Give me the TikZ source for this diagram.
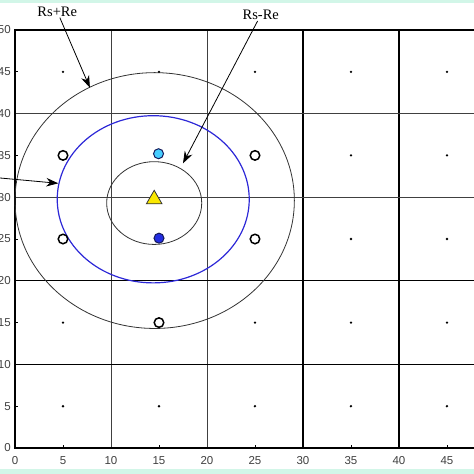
\documentclass[tikz,border=0pt]{standalone}
\usepackage{fontspec}
\setmainfont{Liberation Serif}
\setsansfont{Liberation Sans}
\usetikzlibrary{arrows.meta, positioning, shapes.geometric}

\definecolor{mint}{RGB}{210,246,232}
\definecolor{ringblue}{RGB}{45,40,215}
\definecolor{skyfill}{RGB}{70,205,255}
\definecolor{deepfill}{RGB}{35,45,225}
\definecolor{navy}{RGB}{20,25,90}
\definecolor{tri}{RGB}{250,232,0}

\begin{document}
\begin{tikzpicture}[x=9.6pt, y=8.36pt,
        gridthin/.style={draw=black!75, line width=0.7pt},
        gridthick/.style={draw=black, line width=1.3pt},
        ring/.style={draw=black!80, line width=0.8pt},
        bluering/.style={draw=ringblue, line width=1.2pt},
        site/.style={circle, fill=black, inner sep=0pt, minimum size=2.6pt},
        station/.style={circle, draw=black, line width=1.5pt, fill=white, inner sep=0pt, minimum size=9.5pt},
        target/.style={circle, draw=navy, line width=1pt, inner sep=0pt, minimum size=10pt},
        source/.style={regular polygon, regular polygon sides=3, draw=black!80, fill=tri, line width=0.8pt, inner sep=0pt, minimum size=18pt},
        ticklab/.style={font=\sffamily\fontsize{11.5}{13}\selectfont, text=black!75, inner sep=0pt},
        annot/.style={font=\fontsize{14.5}{17}\selectfont, inner sep=1pt},
        arrow/.style={-{Stealth[length=12pt, width=8.5pt]}, line width=0.8pt}
    ]
        \useasboundingbox (-1.5625,-3.11) rectangle (47.8125,53.59);
        \clip (-1.5625,-3.11) rectangle (47.8125,53.59);

        % --- frame strips ---
        \fill[mint] (-1.5625,53.59) rectangle (47.8125,53.25);
        \fill[mint] (-1.5625,-3.11) rectangle (47.8125,-2.55);

        % --- grid ---
        \foreach \v in {10,20} {
            \draw[gridthin] (\v,0) -- (\v,50);
        }
        \foreach \v in {30,40} {
            \draw[gridthick] (\v,0) -- (\v,50);
        }
        \foreach \v in {30,40} {
            \draw[gridthin] (0,\v) -- (50,\v);
        }
        \foreach \v in {10,20} {
            \draw[gridthick] (0,\v) -- (50,\v);
        }
        \draw[gridthick] (50,0) -- (0,0) -- (0,50) -- (50,50);

        % --- ticks and tick labels ---
        \foreach \v in {5,15,...,45} {
            \draw[line width=0.7pt] (\v,0) -- ++(0,0.4);
            \draw[line width=0.7pt] (0,\v) -- ++(0.35,0);
        }
        \foreach \v in {0,5,...,45} {
            \node[ticklab] (xl\v) at (\v,-1.55) {\v};
        }
        \foreach \v in {0,5,...,50} {
            \node[ticklab, anchor=east] (yl\v) at (-0.42,\v) {\v};
        }

        % --- rings ---
        \draw[ring] (14.55,29.6) ellipse [x radius=14.55, y radius=15.3];
        \draw[bluering] (14.4,29.75) circle [radius=10];
        \draw[ring] (14.5,29.3) circle [radius=4.95];

        % --- grid sites ---
        \foreach \i/\x/\y in {1/5/45, 2/15/45, 3/25/45, 4/35/45, 5/45/45,
                              6/35/35, 7/45/35, 8/35/25, 9/45/25,
                              10/5/15, 11/25/15, 12/35/15, 13/45/15,
                              14/5/5, 15/15/5, 16/25/5, 17/35/5, 18/45/5} {
            \node[site] (site\i) at (\x,\y) {};
        }

        % --- stations ---
        \foreach \i/\x/\y in {1/5/35, 2/25/35, 3/5/25, 4/25/25, 5/15/15} {
            \node[station] (st\i) at (\x,\y) {};
        }
        \node[target, fill=skyfill] (upper) at (14.95,35.2) {};
        \node[target, fill=deepfill] (lower) at (15.0,25.1) {};
        \node[source] (src) at (14.5,29.75) {};

        % --- annotations ---
        \node[annot] (sumlab) at (4.4,52.2) {Rs+Re};
        \node[annot] (difflab) at (25.6,51.8) {Rs-Re};
        \coordinate (sumtip) at (7.8,43.1);
        \coordinate (difftip) at (17.5,34.05);
        \coordinate (bluetail) at (-3,32.45);
        \coordinate (bluetip) at (4.51,31.66);
        \draw[arrow] (sumlab) -- (sumtip);
        \draw[arrow] (difflab) -- (difftip);
        \draw[arrow] (bluetail) -- (bluetip);

    \end{tikzpicture}
\end{document}
